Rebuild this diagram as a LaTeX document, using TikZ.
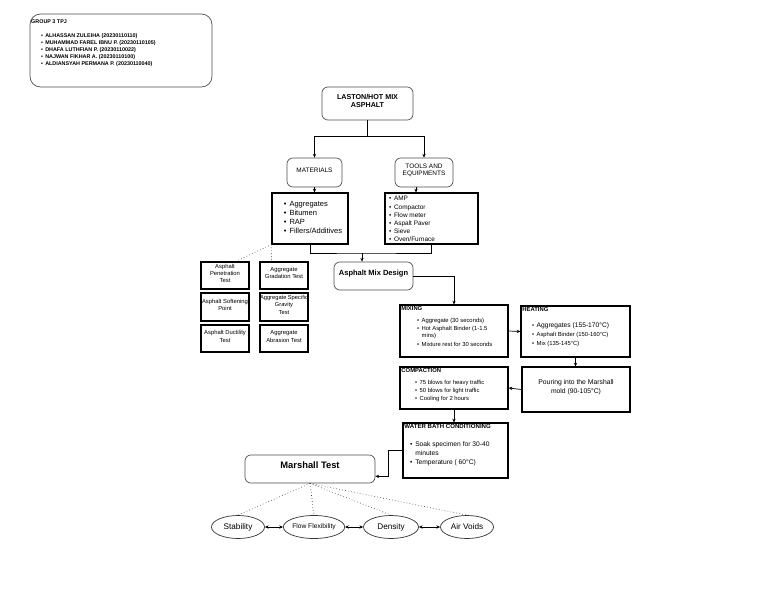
\documentclass[tikz,border=0pt]{standalone}
\usepackage{fontspec}
\setmainfont{Liberation Sans}
\usetikzlibrary{shapes.geometric,arrows.meta,positioning,fit,calc}

\newcommand{\fsz}[2]{\fontsize{#1}{#2}\selectfont}
\newcommand{\blist}[1]{\begin{tabular}{@{}l@{\hspace{0.4em}}l@{}}#1\end{tabular}}

\tikzset{
  rbox/.style={draw=black!70, line width=0.6pt, rounded corners=5pt, inner sep=0pt, align=center},
  sbox/.style={draw=black, line width=0.9pt, inner sep=0pt, align=center},
  boxtitle/.style={anchor=north west, inner sep=1.5pt, font=\bfseries\fsz{5}{6}},
  arr/.style={-{Stealth[length=3.2pt,width=2.8pt]}, line width=0.6pt},
  dots/.style={dotted, line width=0.55pt, black!75},
  oval/.style={ellipse, draw=black!80, line width=0.6pt, minimum height=0.69cm, inner sep=0pt},
}

\begin{document}
\begin{tikzpicture}[x=0.03cm, y=-0.03cm]
\useasboundingbox (0,0) rectangle (768,594);

% ---------------- group box ----------------
\node[rbox, rounded corners=9pt, fit={(30,14) (212,87)}] (group) {};
\node[anchor=west, inner sep=0pt, font=\bfseries\fsz{4.6}{5.5}] (grouptitle) at (31,22) {GROUP 3 TPJ};
\node[anchor=north west, inner sep=0pt, font=\bfseries\fsz{4.6}{6}] (names) at (41,32)
{\blist{
\textbullet & ALHASSAN ZULEIHA (20230110110)\\
\textbullet & MUHAMMAD FAREL IBNU P. (20230110105)\\
\textbullet & DHAFA LUTHFIAN P. (20230110022)\\
\textbullet & NAJWAN FIKHAR A. (20230110100)\\
\textbullet & ALDIANSYAH PERMANA P. (20230110040)}};

% ---------------- top of the tree ----------------
\node[rbox, fit={(322,87) (413,120)}, font=\bfseries\fsz{6.1}{7.5}] (laston) {LASTON/HOT MIX\\ASPHALT};
\node[rbox, fit={(287,158) (342,187)}, font=\fsz{5.5}{6.5}] (materials) {MATERIALS};
\node[rbox, fit={(395,158) (453,187)}, font=\fsz{5.5}{6.5}] (tools) {TOOLS AND\\EQUIPMENTS};

\node[sbox, fit={(272,193) (348,244)}] (matlist) {};
\node[inner sep=0pt, font=\fsz{6.4}{7.8}] (mattext) at (313,218)
{\blist{
\textbullet & Aggregates\\
\textbullet & Bitumen\\
\textbullet & RAP\\
\textbullet & Fillers/Additives}};
\node[sbox, fit={(385,193) (478,244)}] (toollist) {};
\node[anchor=north west, inner sep=0pt, font=\fsz{5.5}{7}] (tooltext) at (389,195)
{\blist{
\textbullet & AMP\\
\textbullet & Compactor\\
\textbullet & Flow meter\\
\textbullet & Aspalt Paver\\
\textbullet & Sieve\\
\textbullet & Oven/Furnace}};

\node[rbox, fit={(334,262) (413,290)}, font=\bfseries\fsz{6.4}{7.5}] (amd) {Asphalt Mix Design};

% ---------------- tests ----------------
\node[sbox, fit={(201,262) (249,289)}, font=\fsz{5}{6}] (pen) {Asphalt\\Penetration\\Test};
\node[sbox, fit={(260,262) (308,289)}, font=\fsz{5}{6}] (grad) {Aggregate\\Gradation Test};
\node[sbox, fit={(201,293) (249,321)}, font=\fsz{5}{6.5}] (soft) {Asphalt Softening\\Point};
\node[sbox, fit={(260,293) (308,321)}, font=\fsz{4.9}{6}] (spec) {Aggregate Specific\\Gravity\\Test};
\node[sbox, fit={(201,325) (249,352)}, font=\fsz{5}{6.5}] (duct) {Asphalt Ductility\\Test};
\node[sbox, fit={(260,325) (308,352)}, font=\fsz{5}{6.5}] (abr) {Aggregate\\Abrasion Test};

% ---------------- process ----------------
\node[sbox, fit={(400,305) (508,357)}] (mixing) {};
\node[boxtitle] (mixtitle) at (mixing.north west) {MIXING};
\node[anchor=north west, inner sep=0pt, font=\fsz{5}{6}] (mixtext) at (417,317)
{\blist{
\textbullet & Aggregate (30 seconds)\\[1.5pt]
\textbullet & Hot  Asphalt Binder (1-1.5\\
 & mins)\\[1.5pt]
\textbullet & Mixture rest for 30 seconds}};

\node[sbox, fit={(521,306) (630,357)}] (heating) {};
\node[boxtitle] (heattitle) at (heating.north west) {HEATING};
\node[anchor=north west, inner sep=0pt, font=\fsz{5}{7.6}] (heattext) at (532,321)
{\blist{
\textbullet & {\fsz{5.7}{7.6}Aggregates (155-170°C)}\\
\textbullet & Asphalt Binder (150-160°C)\\
\textbullet & Mix (135-145°C)}};

\node[sbox, fit={(522,367) (630,412)}, font=\fsz{5.8}{8}] (pouring) {Pouring into the Marshall\\mold (90-105°C)};

\node[sbox, fit={(400,367) (508,409)}] (compaction) {};
\node[boxtitle] (comptitle) at (compaction.north west) {COMPACTION};
\node[anchor=north west, inner sep=0pt, font=\fsz{5}{6.8}] (comptext) at (415,379)
{\blist{
\textbullet & 75 blows for heavy traffic\\
\textbullet & 50 blows for light traffic\\
\textbullet & Cooling for 2 hours}};

\node[sbox, fit={(403,423) (508,478)}] (water) {};
\node[boxtitle, font=\bfseries\fsz{5.2}{6}] (watertitle) at (water.north west) {WATER BATH CONDITIONING};
\node[anchor=north west, inner sep=0pt, font=\fsz{5.7}{7}] (watertext) at (410,441)
{\blist{
\textbullet & Soak specimen for 30-40\\
 & minutes\\[1pt]
\textbullet & Temperature ( 60°C)}};

\node[rbox, fit={(245,455) (375,483)}, font=\bfseries\fsz{8}{9}] (marshall) {Marshall Test};

% ---------------- properties ----------------
\node[oval, minimum width=1.59cm, font=\fsz{7}{8}] (stab) at (238,527) {Stability};
\node[oval, minimum width=1.65cm, font=\fsz{5.7}{7}] (flow) at (314,527) {Flow Flexibility};
\node[oval, minimum width=1.65cm, font=\fsz{7}{8}] (dens) at (391,527) {Density};
\node[oval, minimum width=1.59cm, font=\fsz{7}{8}] (air) at (467,527) {Air Voids};

% ---------------- connectors ----------------
\draw[arr] (laston.south) -- ++(0,16) -| (materials.north);
\draw[arr] (laston.south) -- ++(0,16) -| (tools.north);
\draw[arr] (materials.south) -- (materials.south |- matlist.north);
\draw[arr] ([xshift=-0.24cm]tools.south) -- ([xshift=-0.24cm]tools.south |- toollist.north);

\coordinate (join) at (362,253);
\draw[line width=0.6pt] (matlist.south) |- (join) -| (toollist.south);
\draw[arr] (join) -- (join |- amd.north);

\draw[dots] (matlist.south west) -- ([xshift=-0.42cm]pen.north east);
\draw[dots] (matlist.south west) -- ([xshift=0.36cm]grad.north west);

\draw[arr] (amd.east) -| (mixing.north);
\draw[arr] (mixing.east) -- (heating.west);
\draw[arr] (heating.south) -- (heating.south |- pouring.north);
\draw[arr] (pouring.west) -- (compaction.east);
\draw[arr] (compaction.south) -- (compaction.south |- water.north);
\draw[arr] (water.west) -- ++(-14,0) |- ([yshift=-0.22cm]marshall.east);

\draw[dots] (marshall.south) -- (stab.north);
\draw[dots] (marshall.south) -- (flow.north);
\draw[dots] (marshall.south) -- (dens.north);
\draw[dots] (marshall.south) -- (air.north);

\draw[arr, {Stealth[length=3.2pt,width=2.8pt]}-{Stealth[length=3.2pt,width=2.8pt]}] (stab.east) -- (flow.west);
\draw[arr, {Stealth[length=3.2pt,width=2.8pt]}-{Stealth[length=3.2pt,width=2.8pt]}] (flow.east) -- (dens.west);
\draw[arr, {Stealth[length=3.2pt,width=2.8pt]}-{Stealth[length=3.2pt,width=2.8pt]}] (dens.east) -- (air.west);

\end{tikzpicture}
\end{document}
